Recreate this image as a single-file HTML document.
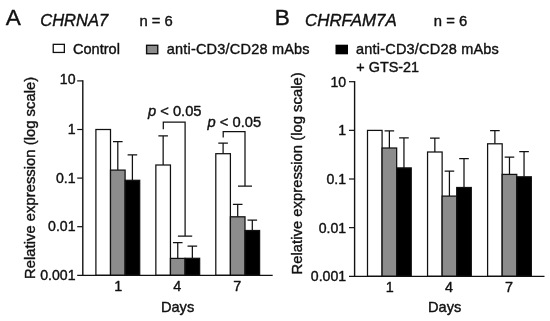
<!DOCTYPE html>
<html><head><meta charset="utf-8"><title>Figure</title>
<style>
html,body{margin:0;padding:0;background:#fff;}
svg{display:block;}
svg text{font-family:"Liberation Sans",Arial,sans-serif;fill:#111;stroke:#111;stroke-width:0.4px;stroke-linejoin:round;}
</style></head><body>
<svg width="550" height="321" viewBox="0 0 550 321">
<rect width="550" height="321" fill="#fff"/>
<text x="5.8" y="25" font-size="22.6">A</text>
<text x="40.2" y="26" font-size="16.55" font-style="italic">CHRNA7</text>
<text x="139.5" y="26" font-size="14.8">n = 6</text>
<text x="274.8" y="25" font-size="22.6">B</text>
<text x="305" y="26" font-size="16.9" font-style="italic">CHRFAM7A</text>
<text x="433.8" y="26" font-size="14.8">n = 6</text>
<rect x="53.25" y="44.35" width="11.1" height="8.1" fill="#fff" stroke="#111" stroke-width="1.3"/>
<text x="73" y="54" font-size="14.55">Control</text>
<rect x="146.6" y="45.3" width="11.15" height="8.4" fill="#8c8c8c" stroke="#111" stroke-width="1.4"/>
<text x="166.7" y="54" font-size="14.5" textLength="142.9">anti-CD3/CD28 mAbs</text>
<rect x="335.5" y="44.7" width="12.5" height="9.6" fill="#000"/>
<text x="356.1" y="54" font-size="14.5" textLength="142.7">anti-CD3/CD28 mAbs</text>
<text x="356.3" y="72" font-size="14.4">+ GTS-21</text>
<text transform="translate(34.7,177.9) rotate(-90)" font-size="14.85" text-anchor="middle">Relative expression (log scale)</text>
<rect x="95.90" y="129.50" width="14.60" height="145.80" fill="#fff" stroke="#111" stroke-width="1.25"/>
<path d="M117.80 170.10V141.60M113.00 141.60H122.60" stroke="#111" stroke-width="1.25" fill="none"/>
<rect x="110.50" y="170.10" width="14.60" height="105.20" fill="#8c8c8c" stroke="#111" stroke-width="1.25"/>
<path d="M132.40 180.30V154.90M127.60 154.90H137.20" stroke="#111" stroke-width="1.25" fill="none"/>
<rect x="125.10" y="180.30" width="14.60" height="95.00" fill="#000" stroke="#111" stroke-width="1.25"/>
<text x="118.30" y="291" font-size="14.4" text-anchor="middle">1</text>
<path d="M163.15 165.00V135.80M158.35 135.80H167.95" stroke="#111" stroke-width="1.25" fill="none"/>
<rect x="155.85" y="165.00" width="14.60" height="110.30" fill="#fff" stroke="#111" stroke-width="1.25"/>
<path d="M177.75 258.40V242.50M172.95 242.50H182.55" stroke="#111" stroke-width="1.25" fill="none"/>
<rect x="170.45" y="258.40" width="14.60" height="16.90" fill="#8c8c8c" stroke="#111" stroke-width="1.25"/>
<path d="M192.35 258.30V246.00M187.55 246.00H197.15" stroke="#111" stroke-width="1.25" fill="none"/>
<rect x="185.05" y="258.30" width="14.60" height="17.00" fill="#000" stroke="#111" stroke-width="1.25"/>
<text x="177.35" y="291" font-size="14.4" text-anchor="middle">4</text>
<path d="M223.10 153.70V143.00M218.30 143.00H227.90" stroke="#111" stroke-width="1.25" fill="none"/>
<rect x="215.80" y="153.70" width="14.60" height="121.60" fill="#fff" stroke="#111" stroke-width="1.25"/>
<path d="M237.70 216.80V204.40M232.90 204.40H242.50" stroke="#111" stroke-width="1.25" fill="none"/>
<rect x="230.40" y="216.80" width="14.60" height="58.50" fill="#8c8c8c" stroke="#111" stroke-width="1.25"/>
<path d="M252.30 230.50V220.20M247.50 220.20H257.10" stroke="#111" stroke-width="1.25" fill="none"/>
<rect x="245.00" y="230.50" width="14.60" height="44.80" fill="#000" stroke="#111" stroke-width="1.25"/>
<text x="237.30" y="291" font-size="14.4" text-anchor="middle">7</text>
<path d="M82.80 80.28V275.95" stroke="#111" stroke-width="1.4" fill="none"/>
<path d="M77.20 275.30H272.70" stroke="#111" stroke-width="1.3" fill="none"/>
<path d="M77.20 80.90H82.80" stroke="#111" stroke-width="1.2" fill="none"/>
<text x="75.50" y="84" font-size="14.1" text-anchor="end">10</text>
<path d="M77.20 129.50H82.80" stroke="#111" stroke-width="1.2" fill="none"/>
<text x="75.50" y="134" font-size="14.1" text-anchor="end">1</text>
<path d="M77.20 178.10H82.80" stroke="#111" stroke-width="1.2" fill="none"/>
<text x="75.50" y="183" font-size="14.1" text-anchor="end">0.1</text>
<path d="M77.20 226.70H82.80" stroke="#111" stroke-width="1.2" fill="none"/>
<text x="75.50" y="231" font-size="14.1" text-anchor="end">0.01</text>
<text x="75.50" y="280" font-size="14.1" text-anchor="end">0.001</text>
<path d="M163.3 129.2V122H185.1V236.2M177.9 236.2H192.2" stroke="#111" stroke-width="1.25" fill="none"/>
<path d="M223.2 137.6V131.5H245V186.2M238 186.2H252" stroke="#111" stroke-width="1.25" fill="none"/>
<text x="148.0" y="116" font-size="14.7"><tspan font-style="italic">p</tspan> &lt; 0.05</text>
<text x="207.6" y="127" font-size="14.7"><tspan font-style="italic">p</tspan> &lt; 0.05</text>
<text x="177.6" y="312" font-size="14.6" text-anchor="middle">Days</text>
<text transform="translate(301.8,173.4) rotate(-90)" font-size="14.85" text-anchor="middle">Relative expression (log scale)</text>
<rect x="367.50" y="130.40" width="14.58" height="145.90" fill="#fff" stroke="#111" stroke-width="1.25"/>
<path d="M389.37 148.00V130.90M384.57 130.90H394.17" stroke="#111" stroke-width="1.25" fill="none"/>
<rect x="382.08" y="148.00" width="14.58" height="128.30" fill="#8c8c8c" stroke="#111" stroke-width="1.25"/>
<path d="M403.95 167.90V137.90M399.15 137.90H408.75" stroke="#111" stroke-width="1.25" fill="none"/>
<rect x="396.66" y="167.90" width="14.58" height="108.40" fill="#000" stroke="#111" stroke-width="1.25"/>
<text x="389.87" y="292" font-size="14.4" text-anchor="middle">1</text>
<path d="M434.84 152.00V138.00M430.04 138.00H439.64" stroke="#111" stroke-width="1.25" fill="none"/>
<rect x="427.55" y="152.00" width="14.58" height="124.30" fill="#fff" stroke="#111" stroke-width="1.25"/>
<path d="M449.42 196.10V171.00M444.62 171.00H454.22" stroke="#111" stroke-width="1.25" fill="none"/>
<rect x="442.13" y="196.10" width="14.58" height="80.20" fill="#8c8c8c" stroke="#111" stroke-width="1.25"/>
<path d="M464.00 187.50V158.70M459.20 158.70H468.80" stroke="#111" stroke-width="1.25" fill="none"/>
<rect x="456.71" y="187.50" width="14.58" height="88.80" fill="#000" stroke="#111" stroke-width="1.25"/>
<text x="449.02" y="292" font-size="14.4" text-anchor="middle">4</text>
<path d="M494.89 143.80V130.60M490.09 130.60H499.69" stroke="#111" stroke-width="1.25" fill="none"/>
<rect x="487.60" y="143.80" width="14.58" height="132.50" fill="#fff" stroke="#111" stroke-width="1.25"/>
<path d="M509.47 174.40V157.10M504.67 157.10H514.27" stroke="#111" stroke-width="1.25" fill="none"/>
<rect x="502.18" y="174.40" width="14.58" height="101.90" fill="#8c8c8c" stroke="#111" stroke-width="1.25"/>
<path d="M524.05 176.80V151.70M519.25 151.70H528.85" stroke="#111" stroke-width="1.25" fill="none"/>
<rect x="516.76" y="176.80" width="14.58" height="99.50" fill="#000" stroke="#111" stroke-width="1.25"/>
<text x="509.07" y="292" font-size="14.4" text-anchor="middle">7</text>
<path d="M354.60 81.08V276.95" stroke="#111" stroke-width="1.4" fill="none"/>
<path d="M349.00 276.30H544.50" stroke="#111" stroke-width="1.3" fill="none"/>
<path d="M349.00 81.70H354.60" stroke="#111" stroke-width="1.2" fill="none"/>
<text x="346.10" y="87" font-size="14.1" text-anchor="end">10</text>
<path d="M349.00 130.35H354.60" stroke="#111" stroke-width="1.2" fill="none"/>
<text x="346.10" y="135" font-size="14.1" text-anchor="end">1</text>
<path d="M349.00 179.00H354.60" stroke="#111" stroke-width="1.2" fill="none"/>
<text x="346.10" y="184" font-size="14.1" text-anchor="end">0.1</text>
<path d="M349.00 227.65H354.60" stroke="#111" stroke-width="1.2" fill="none"/>
<text x="346.10" y="233" font-size="14.1" text-anchor="end">0.01</text>
<text x="346.10" y="281" font-size="14.1" text-anchor="end">0.001</text>
<text x="444.7" y="312" font-size="14.6" text-anchor="middle">Days</text>
</svg>
</body></html>
